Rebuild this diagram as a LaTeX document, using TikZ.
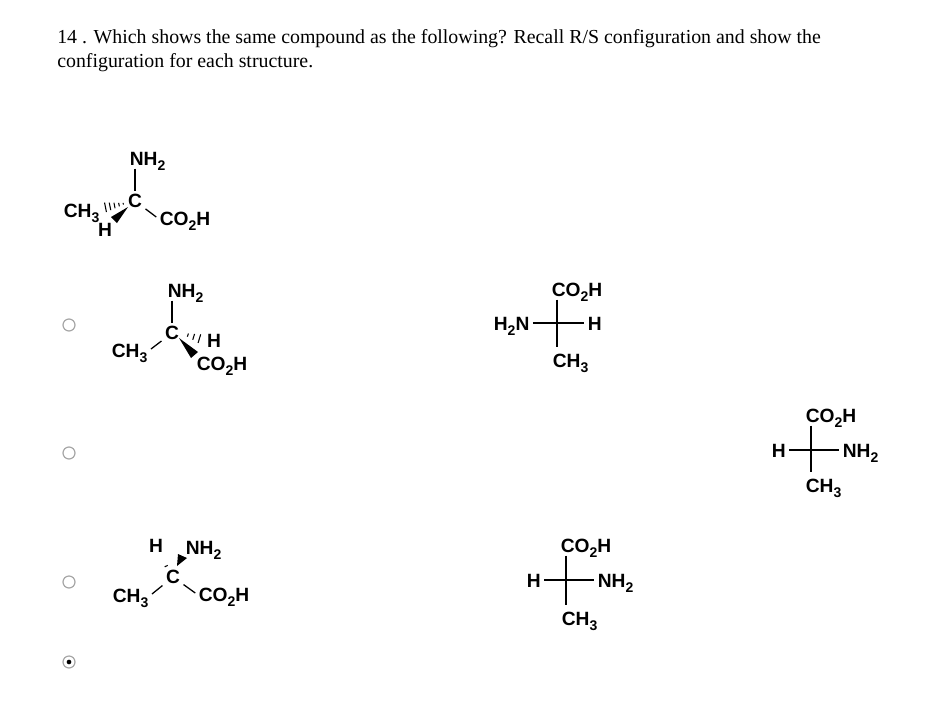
\documentclass[tikz,border=0pt]{standalone}
\usepackage{fontspec}
\setmainfont{Liberation Serif}
\newfontfamily\chemfont{Liberation Sans}
\usetikzlibrary{calc}

\newcommand{\subn}[1]{\raisebox{-0.28em}{\fontsize{10.5}{10.5}\selectfont #1}}
\newcommand{\hashbond}[3]{%
	\foreach \t in {#3} {
		\draw[line width=0.8pt] ($(#1)!\t!(#2)!\t*4.2pt!90:(#2)$) -- ($(#1)!\t!(#2)!\t*4.2pt!-90:(#2)$);
	}
}

\begin{document}
\begin{tikzpicture}[
		x=0.75pt, y=-0.75pt,
		title/.style={anchor=base west, inner sep=0pt, font=\fontsize{14.9}{15}\selectfont},
		chem/.style={anchor=base west, inner sep=2.5pt, xshift=-1.3pt, text height=12pt, text depth=0pt, font=\chemfont\bfseries\fontsize{14.4}{14.4}\selectfont},
		center/.style={inner sep=2.5pt, font=\chemfont\bfseries\fontsize{14.4}{14.4}\selectfont},
		bond/.style={draw, line width=0.95pt},
		radio/.style={draw=gray!70, line width=0.9pt, circle, fill=white, inner sep=0pt, minimum size=9pt},
		radio dot/.style={circle, fill=black, inner sep=0pt, minimum size=3.5pt}
		]
		\useasboundingbox (0,0) rectangle (930,710);
		
		% ==========================================
		% 1. QUESTION TEXT
		% ==========================================
		
		\node[title] (line1) at (57,44) {14 . Which shows the same compound as the following? Recall R/S configuration and show the};
		\node[title] (line2) at (57,67) {configuration for each structure.};
		
		% ==========================================
		% 2. GIVEN COMPOUND
		% ==========================================
		
		\node[center] (q) at (135,201) {C};
		\node[chem] (qN) at (128,165) {NH\subn{2}};
		\node[chem] (qMe) at (62,217) {CH\subn{3}};
		\node[center] (qH) at (105,230) {H};
		\node[chem] (qCO) at (158,225) {CO\subn{2}H};
		
		\draw[bond] (q |- qN.south) -- (q);
		\draw[bond] (q) -- (qCO.west);
		\fill (128,207) -- (111,217) -- (117,223) -- cycle;
		\coordinate (qa) at (127,203);
		\coordinate (qb) at (102,208);
		\hashbond{qa}{qb}{0.15,0.32,0.5,0.68,0.86,1}
		
		% ==========================================
		% 3. OPTION A
		% ==========================================
		
		\node[radio] (r1) at (69,325) {};
		
		\node[center] (a) at (172,333) {C};
		\node[chem] (aN) at (166,297) {NH\subn{2}};
		\node[chem] (aMe) at (110,357) {CH\subn{3}};
		\node[center] (aH) at (214,341) {H};
		\node[chem] (aCO) at (195,370) {CO\subn{2}H};
		
		\draw[bond] (a |- aN.south) -- (a);
		\draw[bond] (a) -- (aMe.east);
		\fill (179,338) -- (191,358) -- (198,352) -- cycle;
		\coordinate (aa) at (181,333);
		\coordinate (ab) at (204,340);
		\hashbond{aa}{ab}{0.3,0.55,0.8,1}
		
		% Fisher projection
		\coordinate (fa) at (557,323);
		\node[chem] (faT) at (550,296) {CO\subn{2}H};
		\node[chem] (faL) at (492,330) {H\subn{2}N};
		\node[chem] (faR) at (586,330) {H};
		\node[chem] (faB) at (551,367) {CH\subn{3}};
		
		\draw[bond] (fa |- faT.south) -- (fa |- faB.north);
		\draw[bond] (faL.east |- fa) -- (faR.west |- fa);
		
		% ==========================================
		% 4. OPTION B
		% ==========================================
		
		\node[radio] (r2) at (69,453) {};
		
		\coordinate (fb) at (811,450);
		\node[chem] (fbT) at (804,422) {CO\subn{2}H};
		\node[chem] (fbL) at (770,457) {H};
		\node[chem] (fbR) at (841,457) {NH\subn{2}};
		\node[chem] (fbB) at (804,492) {CH\subn{3}};
		
		\draw[bond] (fb |- fbT.south) -- (fb |- fbB.north);
		\draw[bond] (fbL.east |- fb) -- (fbR.west |- fb);
		
		% ==========================================
		% 5. OPTION C
		% ==========================================
		
		\node[radio] (r3) at (69,582) {};
		
		\node[center] (c) at (173,577) {C};
		\node[chem] (cN) at (184,554) {NH\subn{2}};
		\node[center] (cH) at (156,546) {H};
		\node[chem] (cMe) at (111,602) {CH\subn{3}};
		\node[chem] (cCO) at (197,601) {CO\subn{2}H};
		
		\draw[bond] (c) -- (cMe.east);
		\draw[bond] (c) -- (cCO.west);
		\fill (177,566) -- (178,554) -- (187,558) -- cycle;
		\coordinate (ca) at (168,570);
		\coordinate (cb) at (162,557);
		\hashbond{ca}{cb}{0.3,1}
		
		% Fisher projection
		\coordinate (fc) at (566,580);
		\node[chem] (fcT) at (559,552) {CO\subn{2}H};
		\node[chem] (fcL) at (525,587) {H};
		\node[chem] (fcR) at (596,587) {NH\subn{2}};
		\node[chem] (fcB) at (560,625) {CH\subn{3}};
		
		\draw[bond] (fc |- fcT.south) -- (fc |- fcB.north);
		\draw[bond] (fcL.east |- fc) -- (fcR.west |- fc);
		
		% ==========================================
		% 6. SELECTED OPTION
		% ==========================================
		
		\node[radio] (r4) at (69,662) {};
		\node[radio dot] (r4dot) at (r4) {};
		
	\end{tikzpicture}
\end{document}
